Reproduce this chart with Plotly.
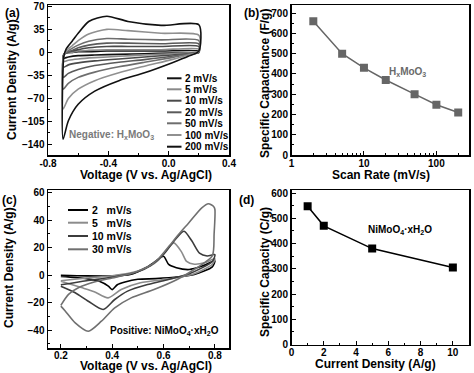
import plotly.graph_objects as go

W, H = 474, 373
FONT = "Liberation Sans, Arial, sans-serif"

# ---------------- Panel (a): CV of HxMoO3 ----------------
VA = [-0.70, -0.695, -0.68, -0.64, -0.60, -0.53, -0.41, -0.27, -0.05, 0.20,
      0.20, 0.13, 0.02, -0.16, -0.33, -0.49, -0.60, -0.665, -0.70]
IA_2 = [-9, -3, -1, 0, 1, 1, 2, 2, 2, 2, 0, -1, -1, -2, -3, -4, -5, -7, -9]
IA_5 = [-14, -3, -1, 0, 2, 3, 4, 4, 4, 5, 0, -1, -2, -4, -6, -8, -10, -12, -14]
IA_10 = [-23, -3, -1, 2, 4, 7, 9, 9, 9, 9, 0, -2, -4, -7, -10, -13, -16, -19, -23]
IA_20 = [-38, -4, -1, 3, 7, 11, 14, 14, 13, 13, 0, -2, -6, -11, -15, -20, -26, -32, -38]
IA_50 = [-56, -4, 0, 6, 11, 17, 21, 20, 19, 18, 1, -3, -8, -15, -22, -30, -38, -47, -56]
IA_100 = [-86, -5, 2, 10, 18, 28, 35, 33, 29, 26, 1, -4, -11, -21, -31, -43, -56, -70, -86]
IA_200 = [-132, -6, 5, 17, 29, 47, 55, 47, 41, 42, 2, -6, -16, -31, -43, -59, -79, -104, -132]
LABELS_A = ["2 mV/s", "5 mV/s", "10 mV/s", "20 mV/s", "50 mV/s", "100 mV/s", "200 mV/s"]
CURVES_A = [IA_2, IA_5, IA_10, IA_20, IA_50, IA_100, IA_200]
COLORS_A = ["#111111", "#8a8a8a", "#4a4a4a", "#5a5a5a", "#6e6e6e", "#909090", "#111111"]

# ---------------- Panel (b): specific capacitance vs scan rate ----------------
RATE_B = [2, 5, 10, 20, 50, 100, 200]
CAP_B = [660, 500, 430, 370, 300, 248, 210]

# ---------------- Panel (c): CV of NiMoO4.xH2O ----------------
VC_2 = [0.20, 0.30, 0.40, 0.47, 0.53, 0.57, 0.60, 0.62, 0.65, 0.70, 0.75, 0.80,
        0.79, 0.72, 0.66, 0.57, 0.50, 0.45, 0.42, 0.40, 0.385, 0.35, 0.30, 0.20]
IC_2 = [0.0, -0.5, -0.5, 0.5, 5.4, 10.2, 13.8, 7.8, 5.4, 4.1, 6.6, 10.5,
        6.0, 0.5, -1.2, -2.5, -3.0, -5.0, -7.0, -10.5, -8.0, -4.5, -2.5, -1.0]
VC_5 = [0.20, 0.30, 0.40, 0.50, 0.55, 0.58, 0.61, 0.64, 0.67, 0.69, 0.72, 0.76, 0.80,
        0.79, 0.72, 0.63, 0.51, 0.435, 0.384, 0.33, 0.28, 0.20]
IC_5 = [-4.0, -2.0, -0.5, 3.0, 7.0, 11.0, 18.0, 23.5, 17.0, 10.0, 8.0, 9.0, 12.0,
        8.0, 1.0, -2.5, -5.5, -10.4, -16.5, -12.0, -9.0, -4.4]
VC_10 = [0.20, 0.30, 0.40, 0.50, 0.55, 0.60, 0.65, 0.68, 0.71, 0.74, 0.77, 0.80,
         0.79, 0.70, 0.60, 0.538, 0.46, 0.41, 0.365, 0.307, 0.256, 0.20]
IC_10 = [-7.0, -4.0, -1.5, 2.5, 7.0, 15.0, 27.0, 32.0, 25.0, 16.0, 14.0, 15.0,
         10.0, 1.0, -4.0, -6.8, -11.6, -17.7, -25.0, -19.0, -12.8, -8.0]
VC_30 = [0.20, 0.23, 0.27, 0.33, 0.40, 0.47, 0.544, 0.58, 0.621, 0.66, 0.698, 0.749, 0.775, 0.795, 0.80,
         0.797, 0.79, 0.73, 0.653, 0.563, 0.474, 0.41, 0.358, 0.307, 0.256, 0.217, 0.20]
IC_30 = [-22.0, -14.0, -9.0, -5.0, -2.0, 1.0, 6.6, 12.0, 21.0, 30.0, 38.0, 49.0, 52.0, 50.0, 48.0,
         30.0, 14.0, 5.4, -3.1, -10.4, -16.5, -23.8, -33.5, -40.8, -34.7, -26.0, -22.5]
LABELS_C = ["2\u00a0\u00a0\u00a0mV/s", "5\u00a0\u00a0\u00a0mV/s", "10 mV/s", "30 mV/s"]
CURVES_C = [(VC_2, IC_2), (VC_5, IC_5), (VC_10, IC_10), (VC_30, IC_30)]
COLORS_C = ["#000000", "#8c8c8c", "#3c3c3c", "#707070"]

# ---------------- Panel (d): specific capacity vs current density ----------------
CURR_D = [1, 2, 5, 10]
CAPY_D = [548, 470, 380, 305]


def px(x):
    return x / W


def py(y):
    return 1 - y / H


fig = go.Figure()

for lab, cur, col in zip(LABELS_A, CURVES_A, COLORS_A):
    fig.add_trace(go.Scatter(x=VA, y=cur, mode="lines", name=lab,
                             line=dict(color=col, width=1.6, shape="spline", smoothing=0.7),
                             xaxis="x", yaxis="y", showlegend=False, hoverinfo="skip"))

fig.add_trace(go.Scatter(x=RATE_B, y=CAP_B, mode="lines+markers",
                         line=dict(color="#666666", width=1.5),
                         marker=dict(symbol="square", size=8, color="#666666"),
                         xaxis="x2", yaxis="y2", showlegend=False, hoverinfo="skip"))

for lab, (vv, ii), col in zip(LABELS_C, CURVES_C, COLORS_C):
    fig.add_trace(go.Scatter(x=vv, y=ii, mode="lines", name=lab,
                             line=dict(color=col, width=1.6, shape="spline", smoothing=0.7),
                             xaxis="x3", yaxis="y3", showlegend=False, hoverinfo="skip"))

fig.add_trace(go.Scatter(x=CURR_D, y=CAPY_D, mode="lines+markers",
                         line=dict(color="#000000", width=1.5),
                         marker=dict(symbol="square", size=8, color="#000000"),
                         xaxis="x4", yaxis="y4", showlegend=False, hoverinfo="skip"))

tickfont = dict(family=FONT, size=10, color="black", weight="bold")


def ax(**kw):
    d = dict(showline=True, linecolor="black", linewidth=1.5, mirror=True,
             ticks="inside", ticklen=4, tickwidth=1, tickcolor="black",
             showgrid=False, zeroline=False, tickfont=tickfont, automargin=False)
    d.update(kw)
    return d


# panel domains (pixels)
A_X = (48, 229); A_Y = (5, 155)
B_X = (291.5, 469); B_Y = (5, 155)
C_X = (48, 229); C_Y = (190, 348)
D_X = (291.5, 469); D_Y = (190, 344.5)


def dom_x(p):
    return [px(p[0]), px(p[1])]


def dom_y(p):
    return [py(p[1]), py(p[0])]


fig.update_layout(
    template="none",
    width=W, height=H, margin=dict(l=0, r=0, t=0, b=0, pad=0, autoexpand=False),
    paper_bgcolor="white", plot_bgcolor="white",
    font=dict(family=FONT, color="black"),
    xaxis=ax(domain=dom_x(A_X), anchor="y", range=[-0.8, 0.4], ticklabelstandoff=-2,
             tickvals=[-0.8, -0.4, 0.0, 0.4], ticktext=["-0.8", "-0.4", "0.0", "0.4"],
             minor=dict(ticks="inside", ticklen=2, tickvals=[-0.6, -0.2, 0.2], tickcolor="black")),
    yaxis=ax(domain=dom_y(A_Y), anchor="x", range=[-156, 72],
             tickvals=[70, 35, 0, -35, -70, -105, -140],
             minor=dict(ticks="inside", ticklen=2, dtick=17.5, tick0=0, tickcolor="black")),
    xaxis2=ax(domain=dom_x(B_X), anchor="y2", type="log", range=[0, 2.45], ticklabelstandoff=-2,
              tickvals=[1, 10, 100], ticktext=["1", "10", "100"],
              minor=dict(ticks="inside", ticklen=2, tickcolor="black",
                         tickvals=[2, 3, 4, 5, 6, 7, 8, 9, 20, 30, 40, 50, 60, 70, 80, 90, 200])),
    yaxis2=ax(domain=dom_y(B_Y), anchor="x2", range=[0, 740],
              tickvals=[0, 100, 200, 300, 400, 500, 600, 700],
              minor=dict(ticks="inside", ticklen=2, dtick=50, tickcolor="black")),
    xaxis3=ax(domain=dom_x(C_X), anchor="y3", range=[0.15, 0.855], ticklabelstandoff=-3,
              tickvals=[0.2, 0.4, 0.6, 0.8], ticktext=["0.2", "0.4", "0.6", "0.8"],
              minor=dict(ticks="inside", ticklen=2, tickvals=[0.3, 0.5, 0.7], tickcolor="black")),
    yaxis3=ax(domain=dom_y(C_Y), anchor="x3", range=[-53, 62],
              tickvals=[-40, -20, 0, 20, 40, 60],
              minor=dict(ticks="inside", ticklen=2, dtick=10, tickcolor="black")),
    xaxis4=ax(domain=dom_x(D_X), anchor="y4", range=[0, 11], ticklabelstandoff=-2,
              tickvals=[0, 2, 4, 6, 8, 10],
              minor=dict(ticks="inside", ticklen=2, dtick=1, tickcolor="black")),
    yaxis4=ax(domain=dom_y(D_Y), anchor="x4", range=[0, 612],
              tickvals=[0, 100, 200, 300, 400, 500, 600],
              minor=dict(ticks="inside", ticklen=2, dtick=50, tickcolor="black")),
)

ann = []
shapes = []
TF = dict(family=FONT, size=12, color="black", weight="bold")


def title(text, x, y, angle=0):
    ann.append(dict(text=text, x=px(x), y=py(y), xref="paper", yref="paper",
                    showarrow=False, textangle=angle, font=TF,
                    xanchor="center", yanchor="middle"))


# axis titles
title("Current Density (A/g)", 12, 80, -90)
title("Voltage (V vs. Ag/AgCl)", 146, 175)
title("Specific Capacitance (F/g)", 265, 84, -90)
title("Scan Rate (mV/s)", 381, 175)
title("Current Density (A/g)", 9, 268, -90)
title("Voltage (V vs. Ag/AgCl)", 146, 366)
title("Specific Capacity (C/g)", 265, 272, -90)
title("Current Density (A/g)", 375, 364)

# panel letters
for t, x, y in [("(a)", 12, 13), ("(b)", 252, 13), ("(c)", 9, 200), ("(d)", 246, 200)]:
    title(t, x, y)

# legend of panel (a)
LEG_A_Y = [78.3, 89.3, 100.7, 112.3, 123.3, 135, 146.7]
for lab, col, yy in zip(LABELS_A, COLORS_A, LEG_A_Y):
    fy = (A_Y[1] - yy) / (A_Y[1] - A_Y[0])
    shapes.append(dict(type="line", xref="x domain", yref="y domain",
                       x0=(167 - A_X[0]) / (A_X[1] - A_X[0]), x1=(181.5 - A_X[0]) / (A_X[1] - A_X[0]),
                       y0=fy, y1=fy, line=dict(color=col, width=2)))
    ann.append(dict(text=lab, xref="x domain", yref="y domain",
                    x=(183 - A_X[0]) / (A_X[1] - A_X[0]), y=fy, showarrow=False,
                    xanchor="left", yanchor="middle",
                    font=dict(family=FONT, size=10, color="black", weight="bold")))

ann.append(dict(text="Negative: H<sub>x</sub>MoO<sub>3</sub>", xref="x domain", yref="y domain",
                x=(67 - A_X[0]) / (A_X[1] - A_X[0]), y=(A_Y[1] - 135) / (A_Y[1] - A_Y[0]),
                showarrow=False, xanchor="left", yanchor="middle",
                font=dict(family=FONT, size=10, color="#7a7a7a", weight="bold")))

ann.append(dict(text="H<sub>x</sub>MoO<sub>3</sub>", xref="x2 domain", yref="y2 domain",
                x=(387 - B_X[0]) / (B_X[1] - B_X[0]), y=(B_Y[1] - 72) / (B_Y[1] - B_Y[0]),
                showarrow=False, xanchor="left", yanchor="middle",
                font=dict(family=FONT, size=10, color="#6a6a6a", weight="bold")))

# legend of panel (c)
LEG_C_Y = [210, 222.7, 236, 249.3]
for lab, col, yy in zip(LABELS_C, COLORS_C, LEG_C_Y):
    fy = (C_Y[1] - yy) / (C_Y[1] - C_Y[0])
    shapes.append(dict(type="line", xref="x3 domain", yref="y3 domain",
                       x0=(68 - C_X[0]) / (C_X[1] - C_X[0]), x1=(88 - C_X[0]) / (C_X[1] - C_X[0]),
                       y0=fy, y1=fy, line=dict(color=col, width=2)))
    ann.append(dict(text=lab, xref="x3 domain", yref="y3 domain",
                    x=(90 - C_X[0]) / (C_X[1] - C_X[0]), y=fy, showarrow=False,
                    xanchor="left", yanchor="middle",
                    font=dict(family=FONT, size=10.5, color="black", weight="bold")))

ann.append(dict(text="Positive: NiMoO<sub>4</sub>\u00b7xH<sub>2</sub>O", xref="x3 domain", yref="y3 domain",
                x=(108 - C_X[0]) / (C_X[1] - C_X[0]), y=(C_Y[1] - 331) / (C_Y[1] - C_Y[0]),
                showarrow=False, xanchor="left", yanchor="middle",
                font=dict(family=FONT, size=10, color="black", weight="bold")))

ann.append(dict(text="NiMoO<sub>4</sub>\u00b7xH<sub>2</sub>O", xref="x4 domain", yref="y4 domain",
                x=(366 - D_X[0]) / (D_X[1] - D_X[0]), y=(D_Y[1] - 230) / (D_Y[1] - D_Y[0]),
                showarrow=False, xanchor="left", yanchor="middle",
                font=dict(family=FONT, size=10, color="black", weight="bold")))

fig.update_layout(annotations=ann, shapes=shapes)
fig.write_html("out.html", config={"displayModeBar": False, "staticPlot": True},
               post_script="document.body.style.margin='0px';document.body.style.padding='0px';")
